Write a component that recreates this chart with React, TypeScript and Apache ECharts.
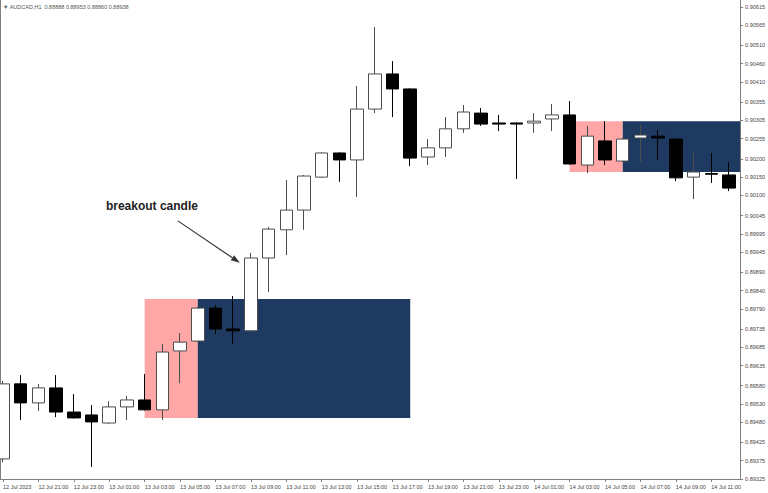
import React, { useEffect, useRef } from "react";
import * as echarts from "echarts";

const times = [
  "12 Jul 19:00", "12 Jul 20:00", "12 Jul 21:00", "12 Jul 22:00", "12 Jul 23:00",
  "13 Jul 00:00", "13 Jul 01:00", "13 Jul 02:00", "13 Jul 03:00", "13 Jul 04:00",
  "13 Jul 05:00", "13 Jul 06:00", "13 Jul 07:00", "13 Jul 08:00", "13 Jul 09:00",
  "13 Jul 10:00", "13 Jul 11:00", "13 Jul 12:00", "13 Jul 13:00", "13 Jul 14:00",
  "13 Jul 15:00", "13 Jul 16:00", "13 Jul 17:00", "13 Jul 18:00", "13 Jul 19:00",
  "13 Jul 20:00", "13 Jul 21:00", "13 Jul 22:00", "13 Jul 23:00", "14 Jul 00:00",
  "14 Jul 01:00", "14 Jul 02:00", "14 Jul 03:00", "14 Jul 04:00", "14 Jul 05:00",
  "14 Jul 06:00", "14 Jul 07:00", "14 Jul 08:00", "14 Jul 09:00", "14 Jul 10:00",
  "14 Jul 11:00", "14 Jul 12:00",
];

const opens = [
  0.8938, 0.89585, 0.89533, 0.89574, 0.89508, 0.895, 0.89478, 0.89522, 0.89541, 0.89514,
  0.89675, 0.89702, 0.89792, 0.89735, 0.8973, 0.89929, 0.90006, 0.9006, 0.9015, 0.90216,
  0.90197, 0.90336, 0.90432, 0.90391, 0.90205, 0.9023, 0.90282, 0.90325, 0.90298, 0.90298,
  0.90298, 0.90309, 0.9032, 0.90183, 0.90249, 0.90194, 0.90257, 0.90262, 0.90254, 0.9015,
  0.9016, 0.90156,
];
const closes = [
  0.89585, 0.89533, 0.89574, 0.89508, 0.89492, 0.89481, 0.89522, 0.89541, 0.89514, 0.89672,
  0.89699, 0.89792, 0.89735, 0.8973, 0.89929, 0.90008, 0.9006, 0.90153, 0.90216, 0.90197,
  0.90336, 0.90432, 0.90391, 0.90202, 0.9023, 0.90282, 0.90328, 0.90295, 0.90295, 0.90295,
  0.90303, 0.9032, 0.90186, 0.90262, 0.90197, 0.90254, 0.90265, 0.90257, 0.90148, 0.90164,
  0.90158, 0.9012,
];
const lows = [
  0.89371, 0.89486, 0.89511, 0.89494, 0.8949, 0.89358, 0.89475, 0.89486, 0.89512, 0.89486,
  0.89587, 0.897, 0.89721, 0.89694, 0.89727, 0.89836, 0.89937, 0.90006, 0.90148, 0.90137,
  0.90096, 0.90325, 0.90314, 0.9018, 0.90183, 0.90205, 0.90271, 0.9029, 0.90276, 0.90145,
  0.90271, 0.90276, 0.90184, 0.90161, 0.90183, 0.90192, 0.90191, 0.90197, 0.90139, 0.9009,
  0.90134, 0.90112,
];
const highs = [
  0.89593, 0.89609, 0.89585, 0.89609, 0.89557, 0.89527, 0.89538, 0.89552, 0.89612, 0.89694,
  0.89724, 0.89795, 0.898, 0.89825, 0.89943, 0.90014, 0.90142, 0.90156, 0.90218, 0.90218,
  0.90399, 0.9056, 0.90467, 0.90393, 0.90254, 0.90314, 0.90347, 0.90339, 0.9032, 0.903,
  0.90325, 0.9035, 0.90358, 0.9029, 0.90303, 0.90256, 0.90293, 0.90279, 0.90256, 0.90216,
  0.90216, 0.90191,
];

const xTickIndex = [0, 2, 4, 6, 8, 10, 12, 14, 16, 18, 20, 22, 24, 26, 28, 30, 32, 34, 36, 38, 40];
const xTickLabels = [
  "12 Jul 2023", "12 Jul 21:00", "12 Jul 23:00", "13 Jul 01:00", "13 Jul 03:00",
  "13 Jul 05:00", "13 Jul 07:00", "13 Jul 09:00", "13 Jul 11:00", "13 Jul 13:00",
  "13 Jul 15:00", "13 Jul 17:00", "13 Jul 19:00", "13 Jul 21:00", "13 Jul 23:00",
  "14 Jul 01:00", "14 Jul 03:00", "14 Jul 05:00", "14 Jul 07:00", "14 Jul 09:00",
  "14 Jul 11:00",
];
const yTickLabels = [
  "0.89325", "0.89375", "0.89425", "0.89480", "0.89530", "0.89580", "0.89635", "0.89685",
  "0.89735", "0.89790", "0.89840", "0.89890", "0.89945", "0.89995", "0.90045", "0.90100",
  "0.90150", "0.90200", "0.90255", "0.90305", "0.90355", "0.90410", "0.90460", "0.90510",
  "0.90565", "0.90615",
];

// order blocks: [startIndex, endIndex, top, bottom, kind]
const zoneStart = [8, 11, 32, 35];
const zoneEnd = [11, 23, 35, 41.63];
const zoneTop = [0.89817, 0.89817, 0.90303, 0.90303];
const zoneBottom = [0.89492, 0.89492, 0.90164, 0.90164];
const zoneKind = ["supply", "block", "supply", "block"];

const breakoutIndex = 14;
const headerText = "\u25BC AUDCAD,H1  0.88888 0.88953 0.88860 0.88938";

const X_MIN = -0.169;
const X_MAX = 41.63;
const Y_MIN = 0.89325;
const Y_MAX = 0.906341;

export default function App() {
  const ref = useRef<HTMLDivElement>(null);

  useEffect(() => {
    if (!ref.current) return;
    const chart = echarts.init(ref.current, undefined, { renderer: "svg" });
    const data = times.map((_, i) => [i, opens[i], closes[i], lows[i], highs[i]]);
    const areas = zoneStart.map((s, i) => [
      {
        xAxis: s,
        yAxis: zoneTop[i],
        itemStyle: { color: zoneKind[i] === "supply" ? "#ffa6a6" : "#1f3a60" },
      },
      { xAxis: zoneEnd[i], yAxis: zoneBottom[i] },
    ]);
    const axisFont = { fontFamily: "Liberation Sans, Arial, sans-serif", fontSize: 5.5, color: "#444" };
    chart.setOption({
      animation: false,
      backgroundColor: "#ffffff",
      title: {
        text: headerText,
        left: 3,
        top: 4,
        padding: 0,
        textStyle: { ...axisFont, fontWeight: "normal", color: "#555" },
      },
      grid: { left: 0, right: 26, top: 0, bottom: 14, containLabel: false },
      xAxis: {
        type: "value",
        min: X_MIN,
        max: X_MAX,
        axisLine: { show: true, onZero: false, lineStyle: { color: "#808080", width: 1 } },
        axisTick: {
          show: true,
          length: 3,
          customValues: xTickIndex,
          lineStyle: { color: "#808080" },
        },
        axisLabel: {
          ...axisFont,
          customValues: xTickIndex,
          align: "left",
          margin: 5,
          formatter: (v: number) => {
            const k = xTickIndex.indexOf(Math.round(v));
            return k >= 0 ? xTickLabels[k] : "";
          },
        },
        splitLine: { show: false },
      },
      yAxis: {
        type: "value",
        position: "right",
        min: Y_MIN,
        max: Y_MAX,
        scale: true,
        axisLine: { show: true, onZero: false, lineStyle: { color: "#808080", width: 1 } },
        axisTick: {
          show: true,
          length: 3,
          customValues: yTickLabels.map(Number),
          lineStyle: { color: "#808080" },
        },
        axisLabel: {
          ...axisFont,
          customValues: yTickLabels.map(Number),
          margin: 5,
          formatter: (v: number) => v.toFixed(5),
        },
        splitLine: { show: false },
      },
      series: [
        {
          type: "candlestick",
          data,
          encode: { x: 0, y: [1, 2, 3, 4] },
          barWidth: 13,
          itemStyle: {
            color: "#ffffff",
            color0: "#000000",
            borderColor: "#4d4d4d",
            borderColor0: "#000000",
            borderWidth: 1,
          },
          markArea: {
            silent: true,
            label: { show: false },
            data: areas,
          },
        },
      ],
    });

    const p = chart.convertToPixel({ xAxisIndex: 0, yAxisIndex: 0 }, [
      breakoutIndex,
      highs[breakoutIndex],
    ]) as number[];
    const tip = [p[0] - 11, p[1] + 10];
    const tail = [p[0] - 73, p[1] - 32];
    const dx = tip[0] - tail[0];
    const dy = tip[1] - tail[1];
    const len = Math.sqrt(dx * dx + dy * dy);
    const ux = dx / len;
    const uy = dy / len;
    const bx = tip[0] - ux * 9;
    const by = tip[1] - uy * 9;
    chart.setOption({
      graphic: [
        {
          type: "line",
          shape: { x1: 0.5, y1: 0, x2: 0.5, y2: 479 },
          style: { stroke: "#808080", lineWidth: 1 },
          silent: true,
        },
        {
          type: "line",
          shape: { x1: tail[0], y1: tail[1], x2: bx, y2: by },
          style: { stroke: "#333", lineWidth: 1.2 },
          silent: true,
        },
        {
          type: "polygon",
          shape: {
            points: [
              [tip[0], tip[1]],
              [bx - uy * 3, by + ux * 3],
              [bx + uy * 3, by - ux * 3],
            ],
          },
          style: { fill: "#333" },
          silent: true,
        },
        {
          type: "text",
          x: p[0] - 145,
          y: p[1] - 47,
          style: {
            text: "breakout candle",
            fontFamily: "Liberation Sans, Arial, sans-serif",
            fontSize: 12,
            fontWeight: "bold",
            fill: "#222",
            verticalAlign: "middle",
          },
          silent: true,
        },
      ],
    });

    return () => chart.dispose();
  }, []);

  return (
    <div
      ref={ref}
      style={{ position: "fixed", left: 0, top: 0, width: 768, height: 493, background: "#fff" }}
    />
  );
}
